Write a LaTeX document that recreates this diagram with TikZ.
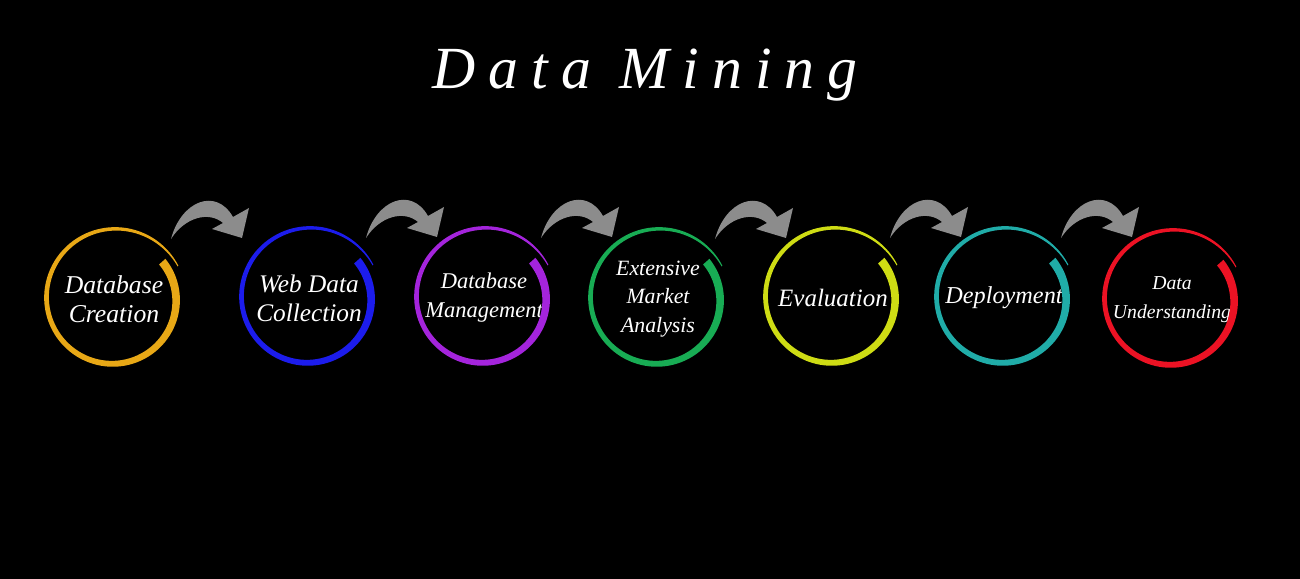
\documentclass[tikz,border=0pt]{standalone}
\usepackage{fontspec}
\setmainfont{Liberation Serif}
\usepackage{tikz}
\usetikzlibrary{positioning,calc}
\usepackage{xcolor}

\definecolor{ringorange}{RGB}{232,168,22}
\definecolor{ringblue}{RGB}{28,28,236}
\definecolor{ringpurple}{RGB}{164,36,220}
\definecolor{ringgreen}{RGB}{24,172,84}
\definecolor{ringyellow}{RGB}{206,220,20}
\definecolor{ringteal}{RGB}{32,172,168}
\definecolor{ringred}{RGB}{236,18,36}
\definecolor{arrowgray}{RGB}{140,140,140}

% Label font: #1 = size in pt
\newcommand{\lbl}[1]{\fontsize{#1}{8.2}\selectfont\itshape}

\begin{document}
\begin{tikzpicture}[x=0.01cm, y=0.01cm,
    stage/.style={circle, minimum size=1.32cm, inner sep=0pt,
                  align=center, text=white},
    heading/.style={text=white, inner sep=0pt}
]

% Background
\fill[black] (0,0) rectangle (1300,579);
\useasboundingbox (0,0) rectangle (1300,579);

% Brush ring round a stage: #1 = node, #2 = colour
\newcommand{\brushring}[2]{%
    \fill[#2, shift={(#1.center)}]
        plot[domain=0:1, samples=100]
            ({38-371*\x}:{61+11*\x+0.5*(4+4.5*(1-\x)^2-3*\x^8)})
        -- plot[domain=1:0, samples=100]
            ({38-371*\x}:{61+11*\x-0.5*(4+4.5*(1-\x)^2-3*\x^8)})
        -- cycle;
}

% Bent block arrow, tail at #1
\newcommand{\bentarrow}[1]{%
    \fill[arrowgray, shift={(#1)}]
        (0,0) .. controls (10,38) and (45,52) .. (62,22)
        -- (78,31) -- (71,1) -- (41,10) -- (52,16)
        .. controls (38,28) and (14,22) .. (0,0) -- cycle;
}

% Title
\node[heading] (title) at (645,504)
    {\fontsize{17}{20}\selectfont\itshape\addfontfeatures{LetterSpace=22}Data Mining};

% Stages
\node[stage, font=\lbl{7.3}] (c1) at (114,280)  {Database\\Creation};
\node[stage, font=\lbl{7.2}] (c2) at (309,281)  {Web Data\\Collection};
\node[stage, font=\lbl{6.4}] (c3) at (484,281)  {Database\\Management};
\node[stage, font=\lbl{6.2}] (c4) at (658,280)  {Extensive\\Market\\Analysis};
\node[stage, font=\lbl{7.1}] (c5) at (833,281)  {Evaluation};
\node[stage, font=\lbl{6.9}] (c6) at (1004,281) {Deployment};
\node[stage, font=\lbl{5.6}] (c7) at (1172,279) {Data\\Understanding};

% Rings
\brushring{c1}{ringorange}
\brushring{c2}{ringblue}
\brushring{c3}{ringpurple}
\brushring{c4}{ringgreen}
\brushring{c5}{ringyellow}
\brushring{c6}{ringteal}
\brushring{c7}{ringred}

% Arrows between stages
\foreach \n in {c1,c2,c3,c4,c5,c6} {
    \bentarrow{$(\n.center)+(57,60)$}
}

\end{tikzpicture}
\end{document}
